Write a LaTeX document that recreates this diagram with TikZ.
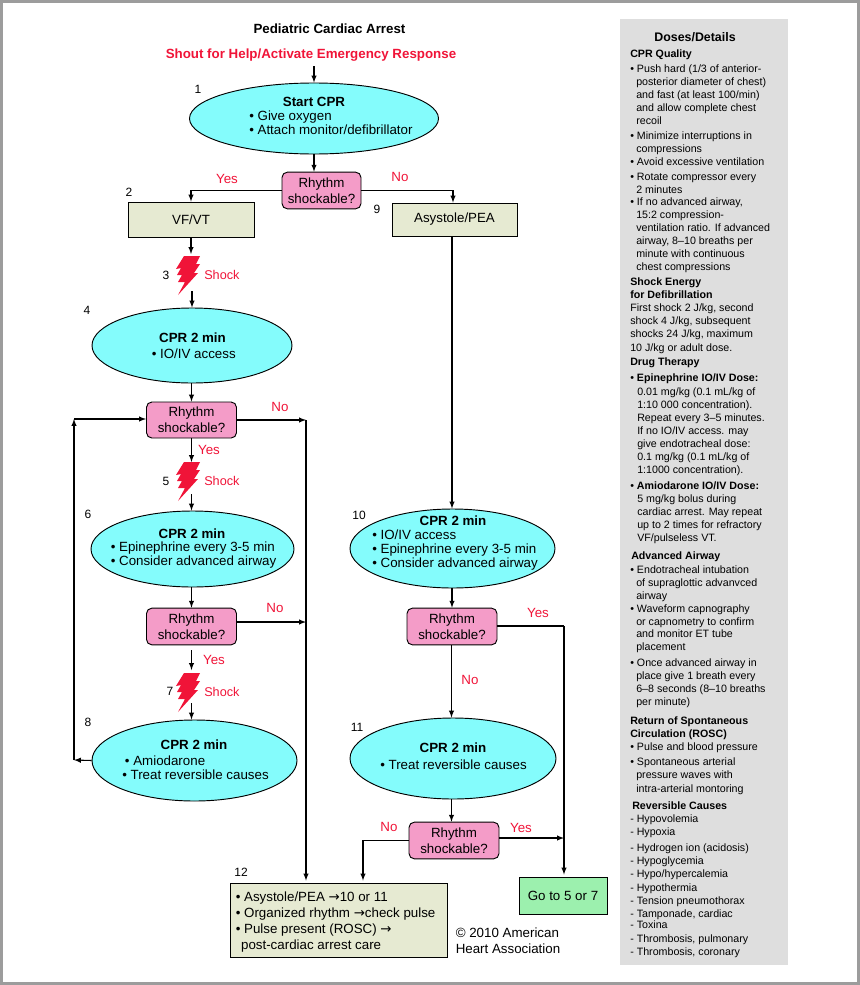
\documentclass[tikz,border=0pt]{standalone}
\usepackage{fontspec}
\setmainfont{Liberation Sans}
\newfontfamily\arrowfont{DejaVu Sans}
\usetikzlibrary{shapes.geometric}
\definecolor{shockred}{HTML}{F01438}
\definecolor{cprcyan}{HTML}{84FCFC}
\definecolor{rhythmpink}{HTML}{F49CC8}
\definecolor{boxsage}{HTML}{E6EAD2}
\definecolor{gomint}{HTML}{9CF0AE}
\definecolor{sidegray}{HTML}{DEDEDE}
\definecolor{framegray}{HTML}{9C9C9C}
\tikzset{
  cpr/.style={draw,ellipse,fill=cprcyan,line width=0.7pt,inner sep=0pt},
  rhythm/.style={draw,rectangle,rounded corners=4pt,fill=rhythmpink,line width=0.7pt,inner sep=0pt,
    minimum width=67.5pt,minimum height=27.5pt,align=center,font=\fontsize{10pt}{12pt}\selectfont},
  panel/.style={draw,rectangle,fill=boxsage,line width=0.7pt,inner sep=0pt,align=center,font=\fontsize{10pt}{12pt}\selectfont},
  flow/.style={line width=0.8pt,->,>=latex},
  plainflow/.style={line width=0.8pt},
  title/.style={inner sep=0pt,font=\fontsize{10pt}{11pt}\selectfont\bfseries},
  items/.style={inner sep=0pt,anchor=west,align=left,font=\fontsize{10pt}{10.7pt}\selectfont},
  step number/.style={inner sep=0pt,font=\fontsize{9pt}{11pt}\selectfont},
  answer/.style={inner sep=0pt,text=shockred,font=\fontsize{10pt}{11pt}\selectfont},
  sideline/.style={inner sep=0pt,anchor=mid west,font=\fontsize{8pt}{10pt}\selectfont},
  sidehead/.style={sideline,font=\fontsize{8pt}{10pt}\selectfont\bfseries},
  bolt/.pic={\fill[shockred] (-6,-19)--(10,-19)--(6,-11)--(10,-11)--(4,-2)--(8,-2)--(-12,20)--(-5,7)--(-12,7)--(-8,0)--(-13,0)--(-9,-7)--(-14,-6)--cycle;}
}
\begin{document}
\begin{tikzpicture}[x=0.75pt,y=-0.75pt]
\useasboundingbox (0,0) rectangle (860,985);
\draw[framegray,line width=2.25pt] (1.5,1.5) rectangle (858.5,983.5);

% headings
\node[title] (heading) at (329.5,29) {Pediatric Cardiac Arrest};
\node[title,text=shockred] (shout) at (311,55) {Shout for Help/Activate Emergency Response};
\coordinate (entry) at (314,66);

% left column
\node[cpr,minimum width=186.75pt,minimum height=53.25pt] (startcpr) at (314,118.5) {};
\node[rhythm,minimum width=59.25pt] (rhythmA) at (321.5,190.5) {Rhythm\\shockable?};
\node[panel,minimum width=94.5pt,minimum height=26.25pt] (vfvt) at (191,219.5) {VF/VT};
\node[cpr,minimum width=150pt,minimum height=56.25pt] (cprB) at (192,345.5) {};
\node[rhythm,minimum height=27pt] (rhythmB) at (191.5,420) {Rhythm\\shockable?};
\node[cpr,minimum width=152.25pt,minimum height=57pt] (cprC) at (192.5,549) {};
\node[rhythm] (rhythmC) at (191.5,626.5) {Rhythm\\shockable?};
\node[cpr,minimum width=153.75pt,minimum height=60.75pt] (cprD) at (194.5,760.5) {};

% right column
\node[panel,minimum width=93.75pt,minimum height=24.75pt] (asystole) at (454.5,219.5) {Asystole/PEA};
\node[cpr,minimum width=153.75pt,minimum height=59.25pt] (cprE) at (452.5,548.5) {};
\node[rhythm] (rhythmD) at (452,626.5) {Rhythm\\shockable?};
\node[cpr,minimum width=154.5pt,minimum height=60.75pt] (cprF) at (453,758.5) {};
\node[rhythm] (rhythmE) at (454,840.5) {Rhythm\\shockable?};
\node[panel,minimum width=162.75pt,minimum height=55.5pt] (finalbox) at (338.5,920) {};
\node[panel,fill=gomint,minimum width=66pt,minimum height=27.75pt] (gobox) at (563,895.5) {Go to 5 or 7};

% ellipse texts
\node[title] (startcprtitle) at (314,102) {Start CPR};
\node[items] (startcpritems) at (249,123) {• Give oxygen\\• Attach monitor/defibrillator};
\node[title] (cprBtitle) at (192.5,338) {CPR 2 min};
\node[items] (cprBitems) at (151.5,354) {• IO/IV access};
\node[title] (cprCtitle) at (192,534) {CPR 2 min};
\node[items] (cprCitems) at (110.5,555) {• Epinephrine every 3-5 min\\• Consider advanced airway};
\node[title] (cprDtitle) at (194,745) {CPR 2 min};
\node[items] (cprDitems) at (122,767.5) {\hspace{2pt}• Amiodarone\\• Treat reversible causes};
\node[title] (cprEtitle) at (453,521) {CPR 2 min};
\node[items] (cprEitems) at (372,550) {• IO/IV access\\• Epinephrine every 3-5 min\\• Consider advanced airway};
\node[title] (cprFtitle) at (453,748) {CPR 2 min};
\node[items] (cprFitems) at (380,765) {• Treat reversible causes};
\node[items,font=\fontsize{10pt}{12pt}\selectfont] (finalitems) at (235.5,922) {• Asystole/PEA {\arrowfont →}10 or 11\\• Organized rhythm {\arrowfont →}check pulse\\• Pulse present (ROSC) {\arrowfont →}\\\hspace{4pt}post-cardiac arrest care};
\node[items,font=\fontsize{10pt}{11.6pt}\selectfont] (copyright) at (455.5,940.5) {© 2010 American\\Heart Association};

% numbers
\foreach \n/\x/\y in {1/198/89,2/129/192,3/166/275,4/87/310,5/166/481,6/88/514,7/170/691,8/88/722,9/377/209,10/359/515,11/357/727,12/241/872}{
\node[step number] (num\n) at (\x,\y) {\n};
}

% answers
\foreach \name/\t/\x/\y in {yesA/Yes/227/179,noA/No/400/177,noB/No/280/407,yesB/Yes/209/450,noC/No/275/608,
  yesC/Yes/214/660,yesD/Yes/538/613,noD/No/470/680,noE/No/389/827,yesE/Yes/521/828}{
\node[answer] (\name) at (\x,\y) {\t};
}
\foreach \y in {275,481,692}{
\pic at (190,\y) {bolt};
\node[answer,anchor=west,font=\fontsize{9.5pt}{11pt}\selectfont] (shock\y) at (204,\y) {Shock};
}

% connectors
\draw[flow] (entry) -- (startcpr.north);
\draw[flow] (startcpr.south) -- (startcpr.south |- rhythmA.north);
\draw[flow] (rhythmA.west) -- (vfvt.north |- rhythmA.west) -- (vfvt.north);
\coordinate (noAtop) at (453,190.5);
\draw[flow] (rhythmA.east) -- (noAtop) -- (noAtop |- asystole.north);
\coordinate (shockAin) at (191,254);
\coordinate (shockAout) at (192,291);
\draw[flow] (vfvt.south) -- (shockAin);
\draw[flow] (shockAout) -- (shockAout |- cprB.north);
\draw[flow] (cprB.south -| rhythmB.south) -- (rhythmB.north);
\coordinate (shockBin) at (191.5,462);
\coordinate (shockBout) at (191.5,494);
\draw[flow] (rhythmB.south) -- (shockBin);
\draw[flow] (shockBout) -- (shockBout |- cprC.north);
\draw[flow] (cprC.south -| rhythmC.north) -- (rhythmC.north);
\coordinate (shockCin) at (191.5,650);
\coordinate (shockCtop) at (191.5,670);
\coordinate (shockCout) at (191.5,703);
\draw[flow] (shockCin) -- (shockCtop);
\draw[flow] (shockCout) -- (shockCout |- cprD.north);
% loop back and trunk to box 12
\coordinate (loopdown) at (74,760);
\coordinate (looptop) at (74,419);
\draw[flow] (cprD.west) -- (loopdown);
\draw[flow] (loopdown) -- (looptop);
\draw[flow] (looptop) -- (looptop -| rhythmB.west);
\coordinate (trunktop) at (306,420);
\coordinate (trunkmid) at (306,622);
\draw[flow] (rhythmB.east) -- (trunktop);
\draw[flow] (rhythmC.east |- trunkmid) -- (trunkmid);
\draw[flow,shorten >=1.5pt] (trunktop) -- (trunktop |- finalbox.north);
% right column
\coordinate (asystoleout) at (452,236);
\draw[flow] (asystoleout) -- (asystoleout |- cprE.north);
\draw[flow] (rhythmD.north |- cprE.south) -- (rhythmD.north);
\coordinate (noDdown) at (451.5,645);
\draw[flow] (noDdown) -- (noDdown |- cprF.north);
\coordinate (noEdown) at (451.5,799);
\draw[flow] (noEdown) -- (noEdown |- rhythmE.north);
\coordinate (goline) at (564,626);
\coordinate (gomid) at (564,838);
\draw[plainflow] (rhythmD.east |- goline) -- (goline);
\draw[flow,shorten >=1.5pt] (goline) -- (goline |- gobox.north);
\draw[flow] (rhythmE.east |- gomid) -- (gomid);
\coordinate (nodrop) at (363,840.5);
\draw[flow,shorten >=1.5pt] (rhythmE.west) -- (nodrop) -- (nodrop |- finalbox.north);

% doses and details panel
\fill[sidegray] (620,19) rectangle (788,965);
\node[sidehead,anchor=center,font=\fontsize{9.3pt}{10pt}\selectfont\bfseries] (doses) at (695,37) {Doses/Details};
\foreach \x/\y/\t in {630/54/CPR Quality,630/282/Shock Energy,630/295/for Defibrillation,630/362/Drug Therapy,
  631/556/Advanced Airway,630/721/Return of Spontaneous,630/734/Circulation (ROSC),632/806/Reversible Causes}{
\node[sidehead] (head\y) at (\x,\y) {\t};
}
\foreach \y/\t in {69/{Push hard (1/3 of anterior-},136/Minimize interruptions in,162/Avoid excessive ventilation,
  177/Rotate compressor every,202/{If no advanced airway,},570/Endotracheal intubation,609/Waveform capnography,
  663/Once advanced airway in,747/Pulse and blood pressure,762/Spontaneous arterial}{
\node[sideline] (item\y) at (630,\y) {• \t};
}
\foreach \y/\t in {378/{Epinephrine IO/IV Dose:},486/{Amiodarone IO/IV Dose:}}{
\node[sidehead] (drug\y) at (630,\y) {\normalfont• \bfseries\t};
}
\foreach \x/\y/\t in {636/82/posterior diameter of chest),636/95/{and fast (at least 100/min)},636/108/and allow complete chest,
  636/121/recoil,636/149/compressions,636/190/2 minutes,636/215/15:2 compression-,
  636/228/ventilation ratio. If advanced,636/241/{airway, 8–10 breaths per},636/254/minute with continuous,636/267/chest compressions,
  630/308/{First shock 2 J/kg, second},630/321/{shock 4 J/kg, subsequent},630/334/{shocks 24 J/kg, maximum},630/348/{10 J/kg or adult dose.},
  637/392/{0.01 mg/kg (0.1 mL/kg of},637/405/1:10 000 concentration).,637/418/Repeat every 3–5 minutes.,
  637/431/{If no IO/IV access. may},637/444/give endotracheal dose:,637/457/{0.1 mg/kg (0.1 mL/kg of},637/470/1:1000 concentration).,
  637/499/{5 mg/kg bolus during},637/512/cardiac arrest. May repeat,637/525/up to 2 times for refractory,637/538/{VF/pulseless VT.},
  636/583/of supraglottic advanvced,636/596/airway,636/622/or capnometry to confirm,636/634/and monitor ET tube,636/647/placement,
  636/676/place give 1 breath every,636/689/6–8 seconds (8–10 breaths,636/702/per minute),
  636/775/pressure waves with,636/789/intra-arterial montoring,
  630/819/- Hypovolemia,630/832/- Hypoxia,630/848/- Hydrogen ion (acidosis),630/861/- Hypoglycemia,630/874/{- Hypo/hypercalemia},
  630/888/- Hypothermia,630/901/- Tension pneumothorax,630/914/{- Tamponade, cardiac},630/925/- Toxina,
  630/939/{- Thrombosis, pulmonary},630/952/{- Thrombosis, coronary}}{
\node[sideline] (text\y) at (\x,\y) {\t};
}
\end{tikzpicture}
\end{document}
